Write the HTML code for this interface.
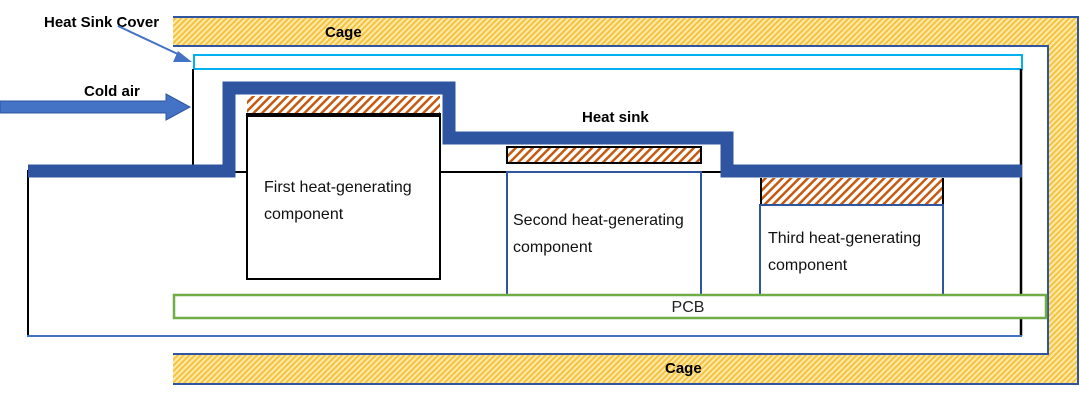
<!DOCTYPE html>
<html><head><meta charset="utf-8"><style>
html,body{margin:0;padding:0;background:#fff;}
svg{display:block;}
text{font-family:"Liberation Sans","DejaVu Sans",sans-serif;}
</style></head><body>
<svg width="1080" height="404" viewBox="0 0 1080 404" xmlns="http://www.w3.org/2000/svg">
<defs>
<pattern id="yh" patternUnits="userSpaceOnUse" width="4" height="4" patternTransform="rotate(45)">
<rect width="4" height="4" fill="#fde9a8"/><rect width="2" height="4" fill="#f5c242"/></pattern>
<pattern id="oh" patternUnits="userSpaceOnUse" width="6" height="6" patternTransform="rotate(45)">
<rect width="6" height="6" fill="#fff"/><rect width="2.5" height="6" fill="#c55a11"/></pattern>
</defs>
<!-- cage -->
<path d="M173,17 H1078 V384 H173 V354 H1048 V46 H173 Z" fill="url(#yh)"/>
<path d="M173,17 H1078 V384 H173" fill="none" stroke="#2f55a0" stroke-width="2"/>
<path d="M173,46 H1048 V354 H173" fill="none" stroke="#2f55a0" stroke-width="2"/>
<text x="325" y="37" font-size="15" font-weight="bold">Cage</text>
<text x="665" y="373" font-size="15" font-weight="bold">Cage</text>
<!-- cover -->
<rect x="194" y="55" width="828" height="14" fill="#fff" stroke="#00b0f0" stroke-width="2"/>
<!-- enclosure -->
<line x1="193" y1="69" x2="193" y2="166" stroke="#000" stroke-width="2"/>
<line x1="1021" y1="69" x2="1021" y2="336" stroke="#000" stroke-width="2.5"/>
<line x1="28" y1="170" x2="28" y2="336" stroke="#000" stroke-width="2"/>
<line x1="27" y1="336" x2="1022" y2="336" stroke="#4472c4" stroke-width="2"/>
<line x1="220" y1="172" x2="1021" y2="172" stroke="#000" stroke-width="2"/>
<!-- components -->
<rect x="247" y="96" width="193" height="17" fill="url(#oh)"/>
<line x1="246" y1="115" x2="441" y2="115" stroke="#000" stroke-width="4"/>
<rect x="247" y="116" width="193" height="163" fill="#fff" stroke="#000" stroke-width="2"/>
<rect x="507" y="147" width="194" height="16" fill="url(#oh)" stroke="#000" stroke-width="2"/>
<rect x="507" y="172" width="194" height="123" fill="#fff" stroke="#2f55a0" stroke-width="2"/>
<rect x="761" y="178" width="182" height="26" fill="url(#oh)"/>
<line x1="761" y1="178" x2="761" y2="204" stroke="#000" stroke-width="2"/>
<line x1="943" y1="178" x2="943" y2="204" stroke="#000" stroke-width="2"/>
<rect x="760" y="205" width="183" height="90" fill="#fff" stroke="#2f55a0" stroke-width="2"/>
<!-- PCB -->
<rect x="174" y="295" width="872" height="23" fill="#fff" stroke="#70ad47" stroke-width="2.5"/>
<text x="688" y="312" font-size="16" text-anchor="middle" fill="#222">PCB</text>
<!-- heat sink -->
<path d="M28,171 H229 V88 H449 V138 H727 V171 H1022" fill="none" stroke="#2f55a0" stroke-width="13"/>
<text x="582" y="122" font-size="15" font-weight="bold">Heat sink</text>
<!-- labels -->
<g font-size="16" fill="#111">
<text x="264" y="192">First heat-generating</text>
<text x="264" y="219">component</text>
<text x="513" y="225">Second heat-generating</text>
<text x="513" y="252">component</text>
<text x="768" y="243">Third heat-generating</text>
<text x="768" y="270">component</text>
</g>
<text x="44" y="27" font-size="15" font-weight="bold">Heat Sink Cover</text>
<line x1="118" y1="26" x2="182" y2="56" stroke="#4472c4" stroke-width="2"/>
<polygon points="192,62 178,51 173,62" fill="#4472c4"/>
<text x="84" y="96" font-size="15" font-weight="bold">Cold air</text>
<polygon points="0,101 166,101 166,94 190,107 166,120 166,113 0,113" fill="#4472c4" stroke="#2f55a0" stroke-width="1"/>
</svg>
</body></html>
